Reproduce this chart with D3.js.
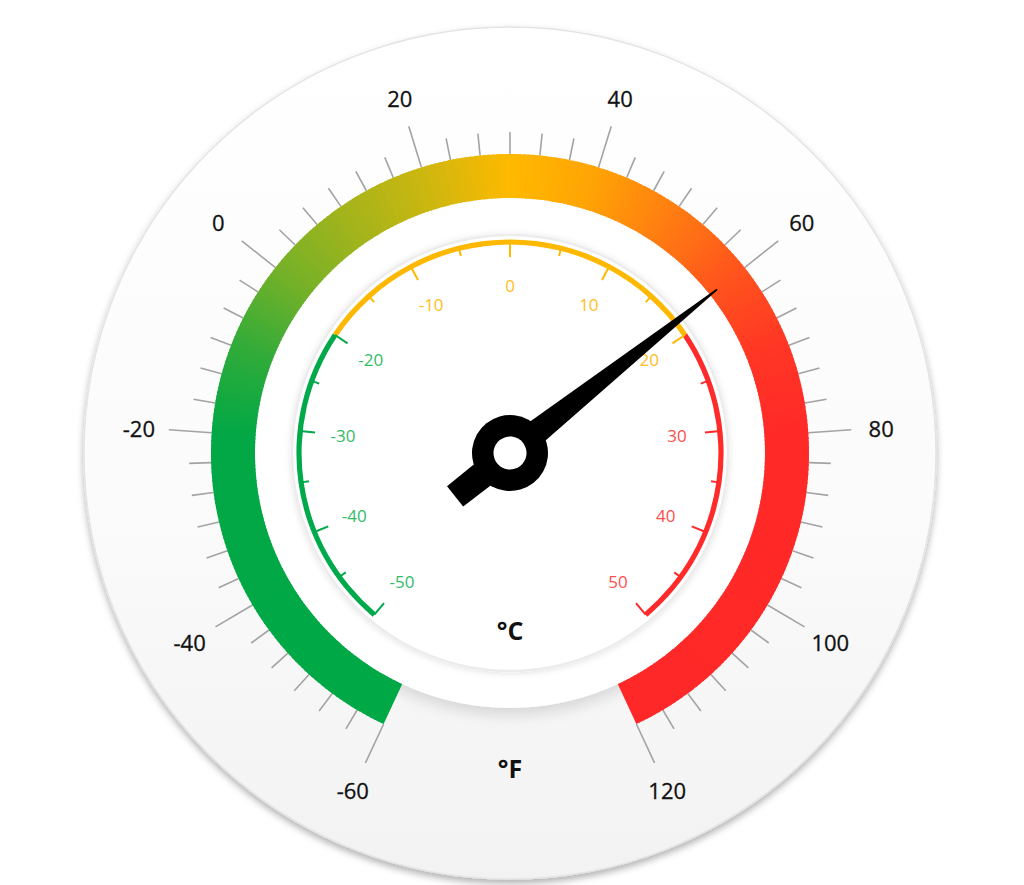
<!DOCTYPE html>
<html><head><meta charset="utf-8">
<script src="https://cdn.jsdelivr.net/npm/d3@7"></script>
<style>html,body{margin:0;padding:0;background:#fff;}svg{display:block}</style>
</head><body><svg id="chart" width="1024" height="885"></svg>
<script>
// ---------- data ----------
const fahrenheitMajorTicks = [-60, -40, -20, 0, 20, 40, 60, 80, 100, 120];
const fahrenheitMinorPerMajor = 6;
const celsiusMajorTicks = [-50, -40, -30, -20, -10, 0, 10, 20, 30, 40, 50];
const celsiusMinorTicks = [-45, -35, -25, -15, -5, 5, 15, 25, 35, 45];
const celsiusRangeBounds = [-50, -20, 20, 50];
const celsiusRangeColors = ['#00A94A', '#FFB800', '#FF2A2A'];
const celsiusLabelColors = ['#33BC68', '#FFBE22', '#FF4E4E'];
const bandStopValues = [-60, -20, -10, 0, 10, 20, 30, 40, 50, 60, 70, 80, 120];
const bandStopColors = ['#00A846', '#02A845', '#30AB3A', '#74B128', '#A4B41B', '#CDB70F', '#FFB900', '#FFA305', '#FF7C12', '#FF531D', '#FF3525', '#FF2A28', '#FF2828'];
const needleValue = 60;
const unitF = '°F';
const unitC = '°C';

// ---------- layout ----------
const svg = d3.select('#chart');
const cx = 510, cy = 453;
const R = { disk: 426, bandOuter: 299, bandInner: 255, ring: 255, inner: 218, cArc: 211,
  fMajorOut: 342, fMinorOut: 321, fTickIn: 299, fLabel: 372, cMajorIn: 196, cMinorIn: 203, cLabel: 168,
  needle: 264, tail: 70, hub: 38, hole: 16.5 };

const fAngle = d3.scaleLinear().domain([-60, 120]).range([-155, 155]);
const cAngle = d3.scaleLinear().domain([-50, 50]).range([-140, 140]);
const rad = d => d * Math.PI / 180;
const px = (a, r) => cx + r * Math.sin(rad(a));
const py = (a, r) => cy - r * Math.cos(rad(a));

const defs = svg.append('defs');
const g1 = defs.append('linearGradient').attr('id', 'diskGrad').attr('x1', 0).attr('y1', 0).attr('x2', 0).attr('y2', 1);
g1.append('stop').attr('offset', '0%').attr('stop-color', '#ffffff');
g1.append('stop').attr('offset', '55%').attr('stop-color', '#fbfbfb');
g1.append('stop').attr('offset', '100%').attr('stop-color', '#f2f2f2');

function shadow(id, dy, sd, op) {
  const f = defs.append('filter').attr('id', id).attr('x', '-20%').attr('y', '-20%').attr('width', '140%').attr('height', '140%');
  f.append('feDropShadow').attr('dx', 0).attr('dy', dy).attr('stdDeviation', sd)
    .attr('flood-color', '#000').attr('flood-opacity', op);
}
shadow('diskShadow', 4, 3.5, 0.3);
shadow('ringShadow', 7, 7, 0.13);
shadow('innerShadow', 1, 3, 0.12);

// outer disk
svg.append('circle').attr('cx', cx).attr('cy', cy).attr('r', R.disk)
  .attr('fill', 'url(#diskGrad)').attr('stroke', '#e4e4e4').attr('stroke-width', 1.5)
  .attr('filter', 'url(#diskShadow)');

// white ring disk
svg.append('circle').attr('cx', cx).attr('cy', cy).attr('r', R.ring)
  .attr('fill', '#ffffff').attr('filter', 'url(#ringShadow)');

// inner dial disk
svg.append('circle').attr('cx', cx).attr('cy', cy).attr('r', R.inner)
  .attr('fill', '#ffffff').attr('stroke', '#ececec').attr('stroke-width', 2.5)
  .attr('filter', 'url(#innerShadow)');

// ---------- Fahrenheit ticks ----------
const fMin = fahrenheitMajorTicks[0], fMax = fahrenheitMajorTicks[fahrenheitMajorTicks.length - 1];
const fStep = (fahrenheitMajorTicks[1] - fahrenheitMajorTicks[0]) / fahrenheitMinorPerMajor;
const fMinorTicks = d3.range(0, Math.round((fMax - fMin) / fStep) + 1)
  .map(i => fMin + i * fStep)
  .filter((v, i) => i % fahrenheitMinorPerMajor !== 0);

const tickG = svg.append('g').attr('stroke', '#a3a3a3').attr('stroke-width', 1.6);
tickG.selectAll('line.minor').data(fMinorTicks).join('line').attr('class', 'minor')
  .attr('x1', d => px(fAngle(d), R.fTickIn)).attr('y1', d => py(fAngle(d), R.fTickIn))
  .attr('x2', d => px(fAngle(d), R.fMinorOut)).attr('y2', d => py(fAngle(d), R.fMinorOut));
tickG.selectAll('line.major').data(fahrenheitMajorTicks).join('line').attr('class', 'major')
  .attr('x1', d => px(fAngle(d), R.fTickIn)).attr('y1', d => py(fAngle(d), R.fTickIn))
  .attr('x2', d => px(fAngle(d), R.fMajorOut)).attr('y2', d => py(fAngle(d), R.fMajorOut));

svg.append('g').selectAll('text').data(fahrenheitMajorTicks).join('text')
  .attr('x', d => px(fAngle(d), R.fLabel)).attr('y', d => py(fAngle(d), R.fLabel))
  .attr('text-anchor', 'middle').attr('dominant-baseline', 'central')
  .attr('font-family', '"Open Sans", "Noto Sans", sans-serif').attr('font-size', 22)
  .attr('fill', '#111').attr('stroke', '#111').attr('stroke-width', 0.3).text(d => d);

// ---------- gradient band ----------
const bandColor = d3.scaleLinear().domain(bandStopValues).range(bandStopColors).interpolate(d3.interpolateRgb);
const segStep = 0.5;
const segs = d3.range(fMin, fMax, segStep);
const bandArc = d3.arc().innerRadius(R.bandInner).outerRadius(R.bandOuter);
svg.append('g').attr('transform', `translate(${cx},${cy})`)
  .selectAll('path').data(segs).join('path')
  .attr('d', d => bandArc({ startAngle: rad(fAngle(d)), endAngle: rad(fAngle(Math.min(d + segStep, fMax))) + (d + segStep < fMax ? 0.006 : 0) }))
  .attr('fill', d => bandColor(d + segStep / 2));

// ---------- Celsius scale ----------
const cRanges = celsiusRangeColors.map((c, i) => ({ from: celsiusRangeBounds[i], to: celsiusRangeBounds[i + 1], color: c, label: celsiusLabelColors[i] }));
const rangeOf = v => cRanges.find((r, i) => v <= r.to || i === cRanges.length - 1);
const cArc = d3.arc().innerRadius(R.cArc - 2.6).outerRadius(R.cArc + 2.6);
svg.append('g').attr('transform', `translate(${cx},${cy})`)
  .selectAll('path').data(cRanges).join('path')
  .attr('d', d => cArc({ startAngle: rad(cAngle(d.from)), endAngle: rad(cAngle(d.to)) }))
  .attr('fill', d => d.color);

const cTickG = svg.append('g').attr('stroke-width', 2);
cTickG.selectAll('line.cmin').data(celsiusMinorTicks).join('line').attr('class', 'cmin')
  .attr('stroke', d => rangeOf(d).color)
  .attr('x1', d => px(cAngle(d), R.cArc)).attr('y1', d => py(cAngle(d), R.cArc))
  .attr('x2', d => px(cAngle(d), R.cMinorIn)).attr('y2', d => py(cAngle(d), R.cMinorIn));
cTickG.selectAll('line.cmaj').data(celsiusMajorTicks).join('line').attr('class', 'cmaj')
  .attr('stroke', d => rangeOf(d).color)
  .attr('x1', d => px(cAngle(d), R.cArc)).attr('y1', d => py(cAngle(d), R.cArc))
  .attr('x2', d => px(cAngle(d), R.cMajorIn)).attr('y2', d => py(cAngle(d), R.cMajorIn));

svg.append('g').selectAll('text').data(celsiusMajorTicks).join('text')
  .attr('x', d => px(cAngle(d), R.cLabel)).attr('y', d => py(cAngle(d), R.cLabel))
  .attr('text-anchor', 'middle').attr('dominant-baseline', 'central')
  .attr('font-family', '"Open Sans", "Noto Sans", sans-serif').attr('font-size', 17)
  .attr('fill', d => rangeOf(d).label).text(d => d);

// units
svg.append('text').attr('x', cx).attr('y', cy + 177).attr('text-anchor', 'middle').attr('dominant-baseline', 'central')
  .attr('font-family', '"Open Sans", "Noto Sans", sans-serif').attr('font-weight', 'bold').attr('font-size', 25)
  .attr('fill', '#111').text(unitC);
svg.append('text').attr('x', cx).attr('y', cy + 315).attr('text-anchor', 'middle').attr('dominant-baseline', 'central')
  .attr('font-family', '"Open Sans", "Noto Sans", sans-serif').attr('font-weight', 'bold').attr('font-size', 25)
  .attr('fill', '#111').text(unitF);

// ---------- needle ----------
const needle = svg.append('g').attr('transform', `translate(${cx},${cy}) rotate(${fAngle(needleValue)})`);
needle.append('path').attr('fill', '#000')
  .attr('d', d3.line()([[-0.8, -R.needle], [0.8, -R.needle], [14, 0], [13, R.tail], [-13, R.tail], [-14, 0]]) + 'Z');
needle.append('circle').attr('r', R.hub).attr('fill', '#000');
needle.append('circle').attr('r', R.hole).attr('fill', '#fff');
</script></body></html>
